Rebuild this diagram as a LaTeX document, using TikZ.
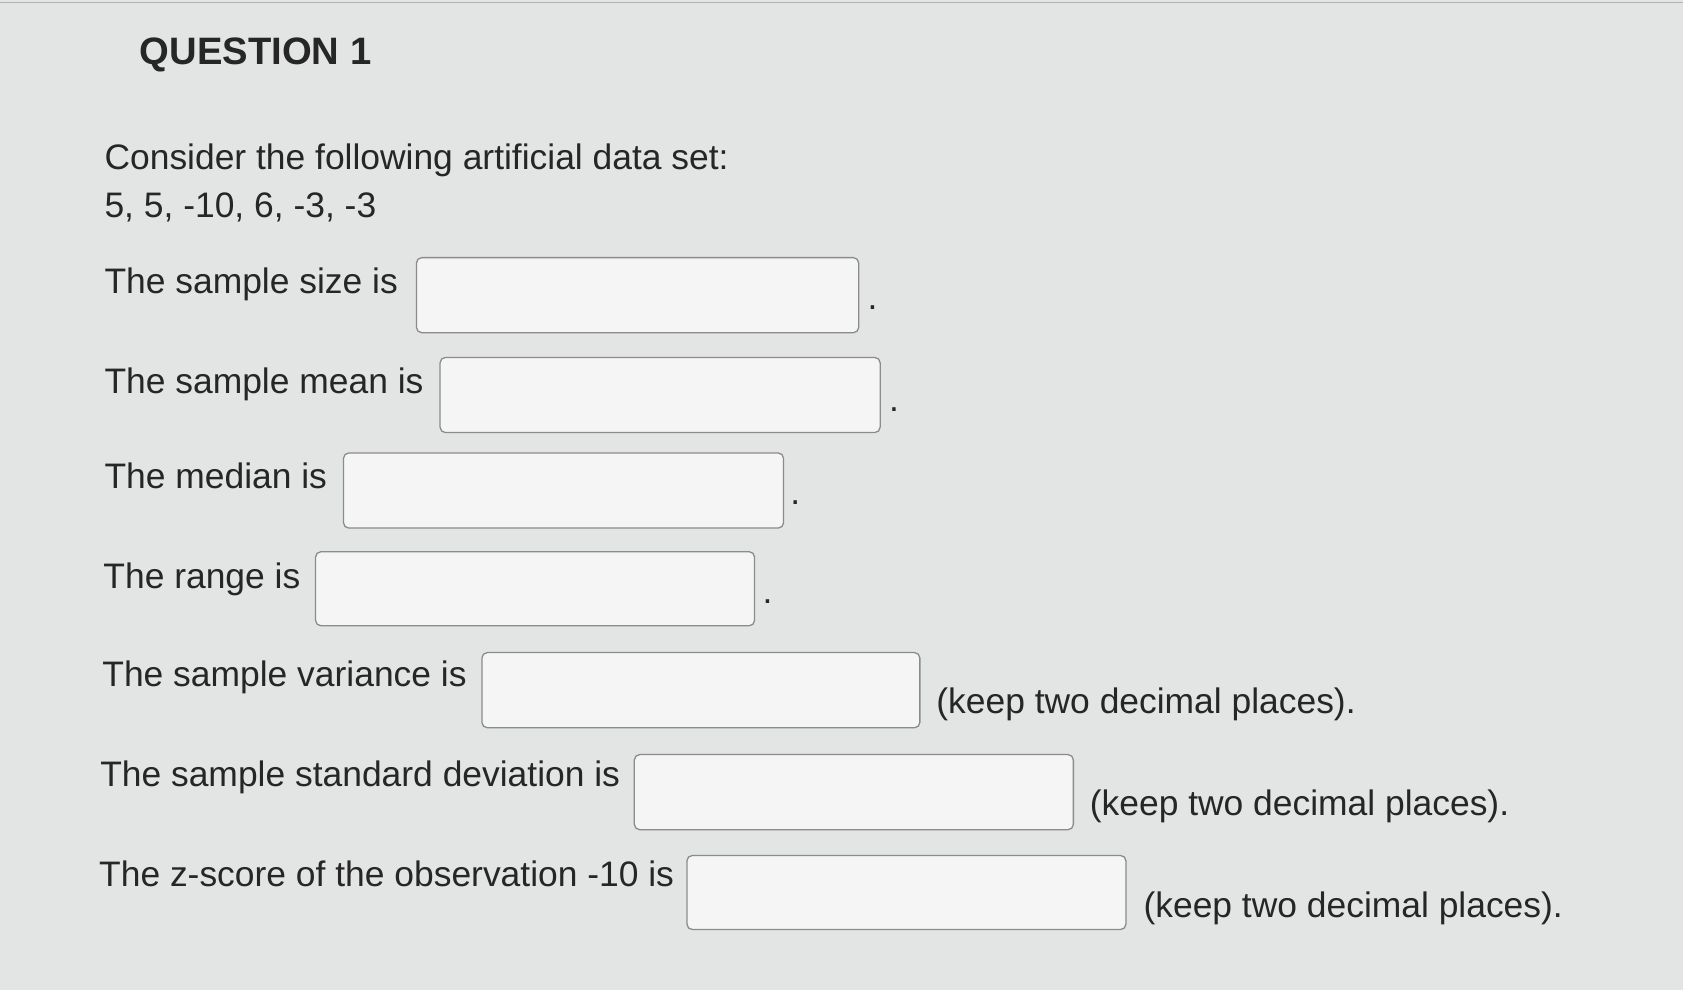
\documentclass[tikz,border=0pt]{standalone}
\usepackage{fontspec}
\setmainfont{Liberation Sans}
\definecolor{paper}{HTML}{E3E5E4}
\definecolor{boxline}{HTML}{8A8C8C}
\tikzstyle{qtext}=[anchor=base west, inner sep=0pt, font=\fontsize{16.5}{20}\selectfont, text=black!85]
\tikzstyle{ansbox}=[draw=boxline, fill=white!60!paper, rounded corners=2.5pt, line width=0.6pt]
\newcommand{\ansrow}[8]{
	\node[qtext] (#1) at (#2,#3) {#4};
	\draw[ansbox] (#5,#6) rectangle (#7,#8);
}

\begin{document}
\begin{tikzpicture}[x=0.5pt,y=-0.5pt]
\fill[paper] (0,0) rectangle (1568,922);
\useasboundingbox (0,0) rectangle (1568,922);
\draw[gray!60] (0,2) -- (1568,2);

\node[qtext, font=\fontsize{17.8}{22}\selectfont\bfseries] (title) at (130,60) {QUESTION 1};
\node[qtext] (intro) at (97,158) {Consider the following artificial data set:};
\node[qtext] (data) at (97,203) {5, 5, -10, 6, -3, -3};

\ansrow{size}{97}{273}{The sample size is}{388}{240}{800}{310}
\ansrow{mean}{97}{367}{The sample mean is}{410}{333}{820}{403}
\ansrow{median}{97}{455}{The median is}{320}{422}{730}{492}
\ansrow{range}{96}{548}{The range is}{294}{514}{703}{583}
\ansrow{var}{95}{640}{The sample variance is}{449}{608}{857}{678}
\ansrow{sd}{93}{733}{The sample standard deviation is}{591}{703}{1000}{773}
\ansrow{zscore}{92}{826}{The z-score of the observation -10 is}{640}{797}{1049}{866}

\node[qtext] (sizedot) at (808,288) {.};
\node[qtext] (meandot) at (828,383) {.};
\node[qtext] (mediandot) at (736,470) {.};
\node[qtext] (rangedot) at (710,562) {.};
\node[qtext] (varnote) at (872,665) {(keep two decimal places).};
\node[qtext] (sdnote) at (1015,760) {(keep two decimal places).};
\node[qtext] (znote) at (1065,855) {(keep two decimal places).};
\end{tikzpicture}
\end{document}
